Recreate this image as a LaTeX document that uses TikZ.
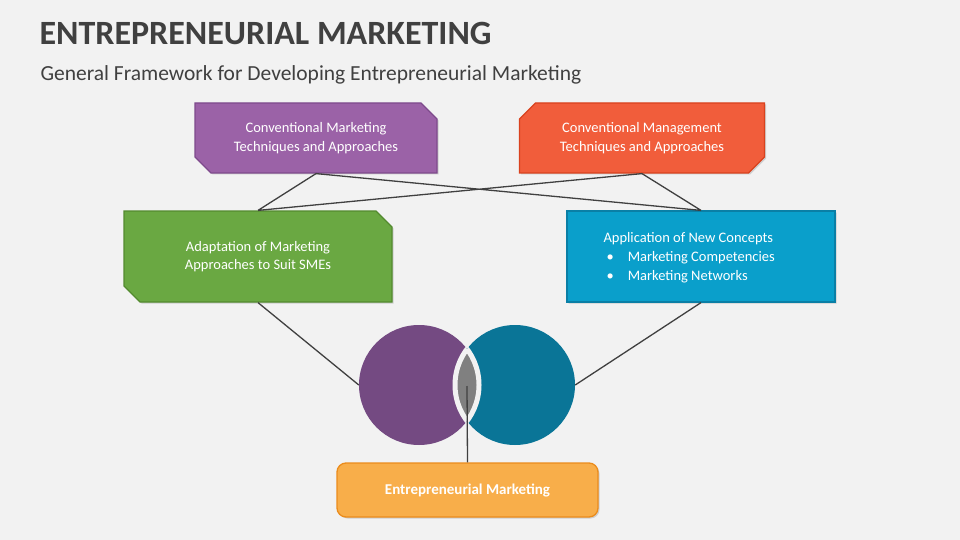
\documentclass[tikz,border=0pt]{standalone}
\usepackage{fontspec}
\setmainfont{Carlito}
\usetikzlibrary{shapes.misc,shadows}
\definecolor{bg}{HTML}{F2F2F2}
\definecolor{pu}{HTML}{9B62A7}\definecolor{puD}{HTML}{7E4A8C}
\definecolor{or}{HTML}{F15D3B}\definecolor{orD}{HTML}{D9421E}
\definecolor{gr}{HTML}{6AA842}\definecolor{grD}{HTML}{538A2F}
\definecolor{bl}{HTML}{0A9FCB}\definecolor{blD}{HTML}{0A7FA6}
\definecolor{cp}{HTML}{744A82}\definecolor{cb}{HTML}{0A7597}
\definecolor{ye}{HTML}{F8AE4A}\definecolor{yeD}{HTML}{EB8C1C}
\definecolor{tx}{HTML}{404040}
\begin{document}
\begin{tikzpicture}[x=1pt,y=-1pt,
  chbox/.style={chamfered rectangle, chamfered rectangle xsep=8pt, chamfered rectangle ysep=8pt,
    inner sep=0pt, line width=1.2pt, text=white, font=\fontsize{14.5}{18.5}\selectfont, align=center,
    drop shadow={shadow xshift=1.5pt,shadow yshift=-1.5pt,opacity=0.3}},
  cNE/.style={chamfered rectangle corners={north east,south west}},
  cNW/.style={chamfered rectangle corners={north west,south east}},
  conn/.style={draw=tx, line width=1.3pt}]
\fill[bg] (0,0) rectangle (960,540);
\node[anchor=base west, font=\fontsize{34}{40}\bfseries\selectfont, text=tx] (title) at (36,45) {ENTREPRENEURIAL MARKETING};
\node[anchor=base west, font=\fontsize{21.5}{26}\selectfont, text=tx] (sub) at (37,81) {General Framework for Developing Entrepreneurial Marketing};
\node[chbox,cNE,fill=pu,draw=puD,minimum width=242pt,minimum height=70pt] (p) at (316,138) {Conventional Marketing\\Techniques and Approaches};
\node[chbox,cNW,fill=or,draw=orD,minimum width=245pt,minimum height=70pt] (o) at (642,138) {Conventional Management\\Techniques and Approaches};
\node[chbox,cNE,fill=gr,draw=grD,minimum width=268pt,minimum height=91pt] (g) at (258,256.5) {Adaptation of Marketing\\Approaches to Suit SMEs};
\node[chbox,cNW,fill=bl,draw=blD,minimum width=268pt,minimum height=91pt] (b) at (701,256.5) {};
\node[anchor=north west, text=white, font=\fontsize{14.5}{19}\selectfont, align=left] (bt) at (600,229)
  {Application of New Concepts\\[0pt]\hspace*{3pt}\textbullet\hspace{14pt}Marketing Competencies\\\hspace*{3pt}\textbullet\hspace{14pt}Marketing Networks};
\draw[conn] (p.south) -- (g.north) (p.south) -- (b.north) (o.south) -- (g.north) (o.south) -- (b.north);
\node[circle,fill=cp,minimum size=120pt,inner sep=0pt] (lc) at (419,385) {};
\node[circle,fill=cb,minimum size=120pt,inner sep=0pt] (rc) at (515,385) {};
\begin{scope}\clip (419,385) circle (60);
  \fill[gray!100!white,fill=gray,draw=bg,line width=5pt] (515,385) circle (60);\end{scope}
\begin{scope}\clip (515,385) circle (60);
  \draw[bg,line width=5pt] (419,385) circle (60);\end{scope}
\coordinate (lens) at (467,386);
\node[rounded corners=9pt,fill=ye,draw=yeD,line width=1.3pt,minimum width=261pt,minimum height=54pt,
  text=white,font=\fontsize{15}{18}\bfseries\selectfont,
  drop shadow={shadow xshift=1.5pt,shadow yshift=-1.5pt,opacity=0.3}] (em) at (467.5,490) {Entrepreneurial Marketing};
\draw[conn] (g.south) -- (lc.west);
\draw[conn] (b.south) -- (rc.east);
\draw[conn] (lens) -- (em.north);
\end{tikzpicture}
\end{document}
